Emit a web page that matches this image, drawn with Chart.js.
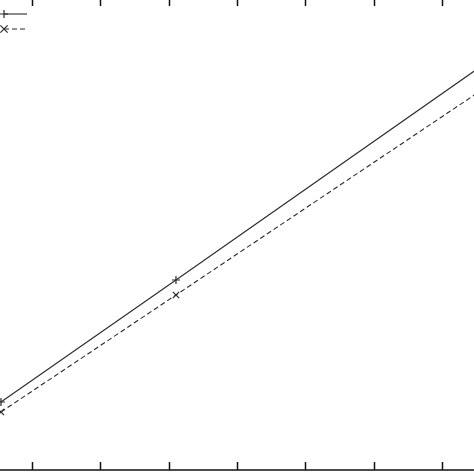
<!DOCTYPE html>
<html>
<head>
<meta charset="utf-8">
<script src="https://cdn.jsdelivr.net/npm/chart.js@4"></script>
<style>
html,body{margin:0;padding:0;background:#fff;}
#wrap{width:474px;height:474px;}
</style>
</head>
<body>
<div id="wrap"><canvas id="c" width="474" height="474"></canvas></div>
<script>
// Data
const xValues = [-0.454, 2.107, 7.434];
const solidValues = [6.8, 19.0, 44.5];
const dashedValues = [5.8, 17.5, 41.9];
const tickValues = [0, 1, 2, 3, 4, 5, 6];
const seriesNames = ['series 1', 'series 2'];

const solidData = xValues.map((x, i) => ({x: x, y: solidValues[i]}));
const dashedData = xValues.map((x, i) => ({x: x, y: dashedValues[i]}));

const frame = {
  id: 'frame',
  afterDraw(chart) {
    const ctx = chart.ctx;
    const a = chart.chartArea;
    const xs = chart.scales.x;
    ctx.save();
    ctx.strokeStyle = '#111';
    // bottom axis line
    ctx.lineWidth = 1.6;
    ctx.beginPath();
    ctx.moveTo(a.left, a.bottom);
    ctx.lineTo(a.right, a.bottom);
    ctx.stroke();
    // inward ticks top and bottom
    ctx.lineWidth = 1.5;
    tickValues.forEach(v => {
      const px = Math.round(xs.getPixelForValue(v)) + 0.5;
      ctx.beginPath();
      ctx.moveTo(px, a.bottom);
      ctx.lineTo(px, a.bottom - 8);
      ctx.moveTo(px, a.top);
      ctx.lineTo(px, a.top + 6);
      ctx.stroke();
    });
    // legend samples (text cropped off on the left)
    chart.data.datasets.forEach((ds, i) => {
      const y = 14 + i * 15;
      ctx.strokeStyle = ds.borderColor;
      ctx.lineWidth = ds.borderWidth;
      ctx.setLineDash(ds.borderDash || []);
      ctx.beginPath();
      ctx.moveTo(4, y);
      ctx.lineTo(27, y);
      ctx.stroke();
      ctx.setLineDash([]);
      ctx.lineWidth = 1.2;
      ctx.beginPath();
      const r = ds.pointRadius;
      if (ds.pointStyle === 'cross') {
        ctx.moveTo(4 - r, y); ctx.lineTo(4 + r, y);
        ctx.moveTo(4, y - r); ctx.lineTo(4, y + r);
      } else {
        const d = r * 0.8;
        ctx.moveTo(4 - d, y - d); ctx.lineTo(4 + d, y + d);
        ctx.moveTo(4 - d, y + d); ctx.lineTo(4 + d, y - d);
      }
      ctx.stroke();
    });
    ctx.restore();
  }
};

new Chart(document.getElementById('c'), {
  type: 'scatter',
  data: {
    datasets: [
      {
        label: seriesNames[0],
        data: solidData,
        showLine: true,
        borderColor: '#2a2a2a',
        backgroundColor: '#2a2a2a',
        borderWidth: 1.1,
        pointStyle: 'cross',
        pointRadius: 4,
        pointBorderWidth: 1.2,
        tension: 0
      },
      {
        label: seriesNames[1],
        data: dashedData,
        showLine: true,
        borderColor: '#2a2a2a',
        backgroundColor: '#2a2a2a',
        borderWidth: 1.1,
        borderDash: [5, 3],
        pointStyle: 'crossRot',
        pointRadius: 4.5,
        pointBorderWidth: 1.2,
        tension: 0
      }
    ]
  },
  options: {
    responsive: false,
    animation: false,
    devicePixelRatio: 1,
    layout: {autoPadding: false, padding: {left: 0, right: 0, top: 0, bottom: 4}},
    plugins: {legend: {display: false}, tooltip: {enabled: false}},
    scales: {
      x: {type: 'linear', display: false, min: -0.468, max: 6.468},
      y: {type: 'linear', display: false, min: 0, max: 47}
    }
  },
  plugins: [frame]
});
</script>
</body>
</html>
